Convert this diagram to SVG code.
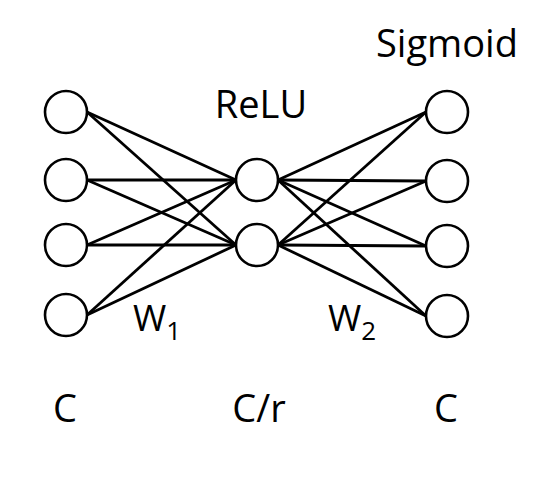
<svg xmlns="http://www.w3.org/2000/svg" width="538" height="484" viewBox="0 0 538 484">
<style>
.n{fill:#fff;stroke:#000;stroke-width:2.6}
.e{stroke:#000;stroke-width:2.8;fill:none}
text{font-family:"Open Sans","Noto Sans",sans-serif;font-size:38px;fill:#000}
.w{font-size:36px}
.s{font-size:26px}
</style>
<rect width="538" height="484" fill="#fff"/>
<g id="connectors">
<line class="e" x1="87" y1="112" x2="236" y2="180"/>
<line class="e" x1="87" y1="112" x2="236" y2="245"/>
<line class="e" x1="87" y1="180" x2="236" y2="180"/>
<line class="e" x1="87" y1="180" x2="236" y2="245"/>
<line class="e" x1="87" y1="245" x2="236" y2="180"/>
<line class="e" x1="87" y1="245" x2="236" y2="245"/>
<line class="e" x1="87" y1="315" x2="236" y2="180"/>
<line class="e" x1="87" y1="315" x2="236" y2="245"/>
<line class="e" x1="278" y1="180" x2="426" y2="112"/>
<line class="e" x1="278" y1="180" x2="426" y2="181"/>
<line class="e" x1="278" y1="180" x2="426" y2="246"/>
<line class="e" x1="278" y1="180" x2="426" y2="316"/>
<line class="e" x1="278" y1="245" x2="426" y2="112"/>
<line class="e" x1="278" y1="245" x2="426" y2="181"/>
<line class="e" x1="278" y1="245" x2="426" y2="246"/>
<line class="e" x1="278" y1="245" x2="426" y2="316"/>
</g>
<g id="in1"><circle class="n" cx="66" cy="112" r="21"/></g>
<g id="in2"><circle class="n" cx="66" cy="180" r="21"/></g>
<g id="in3"><circle class="n" cx="66" cy="245" r="21"/></g>
<g id="in4"><circle class="n" cx="66" cy="315" r="21"/></g>
<g id="hid1"><circle class="n" cx="257" cy="180" r="21"/></g>
<g id="hid2"><circle class="n" cx="257" cy="245" r="21"/></g>
<g id="out1"><circle class="n" cx="447" cy="112" r="21"/></g>
<g id="out2"><circle class="n" cx="447" cy="181" r="21"/></g>
<g id="out3"><circle class="n" cx="447" cy="246" r="21"/></g>
<g id="out4"><circle class="n" cx="447" cy="316" r="21"/></g>
<g id="labels">
<text x="447" y="57" text-anchor="middle">Sigmoid</text>
<text x="261" y="118" text-anchor="middle">ReLU</text>
<text class="w" x="133" y="331">W<tspan class="s" dy="9">1</tspan></text>
<text class="w" x="328" y="331">W<tspan class="s" dy="9">2</tspan></text>
<text x="65" y="422" text-anchor="middle">C</text>
<text x="259" y="422" text-anchor="middle">C/r</text>
<text x="446" y="422" text-anchor="middle">C</text>
</g>
</svg>
